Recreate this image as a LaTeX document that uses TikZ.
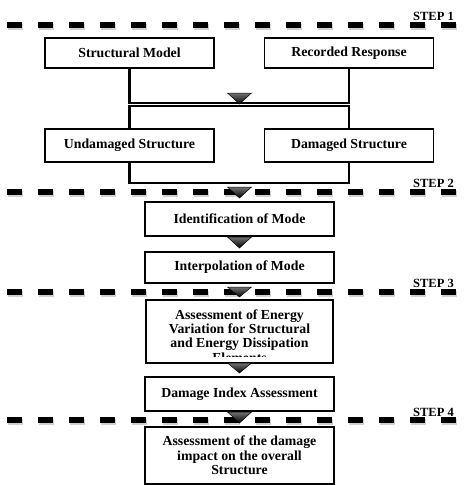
\documentclass[tikz,border=0pt]{standalone}
\usepackage{fontspec}
\setmainfont{Liberation Serif}
\begin{document}
\begin{tikzpicture}[x=1pt,y=-1pt,
  box/.style={draw, line width=1.6pt, fill=white, align=center, inner sep=0pt,
    font=\bfseries\fontsize{13.8}{14.5}\selectfont},
  wide/.style={box, minimum width=169pt},
  mid/.style={box, minimum width=189pt},
  link/.style={line width=2.2pt},
  steplab/.style={anchor=east, inner sep=0pt, font=\bfseries\fontsize{12.5}{13}\selectfont},
  sepline/.style={line width=5.5pt, dash pattern=on 15pt off 16pt},
  sepshadow/.style={line width=6pt, dash pattern=on 15pt off 16pt, draw=black!30, opacity=0.6},
  tri/.style={top color=black!55, bottom color=black, draw=black, line width=0.5pt}
]
\useasboundingbox (0,0) rectangle (474,485);
% separators
\foreach \yy in {25,192,292,420}{
  \draw[sepshadow] (8,\yy+2) -- (459,\yy+2);
  \draw[sepline] (7,\yy) -- (458,\yy);
}
\node[steplab] (s1) at (454,16.5) {STEP 1};
\node[steplab] (s2) at (454,183.5) {STEP 2};
\node[steplab] (s3) at (454,283.5) {STEP 3};
\node[steplab] (s4) at (454,412) {STEP 4};
% boxes
\node[wide, minimum height=30pt] (sm) at (129.5,53) {Structural Model};
\node[wide, minimum height=30pt] (rr) at (349,53) {Recorded Response};
\node[wide, minimum height=33pt] (ud) at (129.5,145.5) {Undamaged Structure};
\node[wide, minimum height=33pt] (ds) at (349,145.5) {Damaged Structure};
\node[mid, minimum height=34pt] (im) at (239.5,219) {Identification of Mode};
\node[mid, minimum height=31pt] (ip) at (239.5,267.5) {Interpolation of Mode};
\node[box, minimum width=187pt, minimum height=63pt] (ae) at (239.5,331.5) {};
\begin{scope}
  \clip ([yshift=7pt]ae.south west) rectangle (ae.north east);
  \node[align=center, inner sep=0pt, font=\bfseries\fontsize{13.8}{14.3}\selectfont] (aet) at (239.5,336)
    {Assessment of Energy\\Variation for Structural\\and Energy Dissipation\\Elements};
\end{scope}
\node[mid, minimum height=34pt] (di) at (239.5,394) {Damage Index Assessment};
\node[mid, minimum height=57pt] (ao) at (239.5,455.5) {Assessment of the damage\\impact on the overall\\Structure};
% connectors
\draw[link] (sm.south) -- ++(0,34) -| (rr.south);
\draw[link] (ud.north) -- ++(0,-22) -| (ds.north);
\draw[link] (ud.south) -- ++(0,20) -| (ds.south);
% arrow triangles
\foreach \ya/\yb in {93/104, 187/198, 237/248, 287/297, 363/373, 412/423}{
  \path[tri] (227.5,\ya) -- (251.5,\ya) -- (239.5,\yb) -- cycle;
}
\end{tikzpicture}
\end{document}
